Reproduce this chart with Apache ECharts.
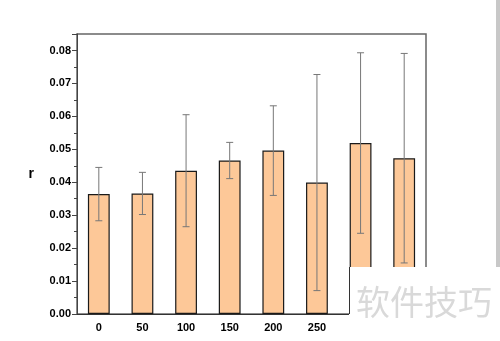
<!DOCTYPE html>
<html><head><meta charset="utf-8">
<script src="https://cdn.jsdelivr.net/npm/echarts@6/dist/echarts.min.js"></script>
<style>html,body{margin:0;padding:0;background:#fff}#c{width:500px;height:341px}</style>
</head><body><div id="c"></div>
<script>
const categories = ['0','50','100','150','200','250','300','350'];
const values = [0.0364, 0.0366, 0.0435, 0.0466, 0.0496, 0.0399, 0.0519, 0.0473];
const errors = [0.0081, 0.0064, 0.0170, 0.0055, 0.0136, 0.0328, 0.0274, 0.0318];
const yTicks = {min: 0, max: 0.085, interval: 0.01};

const chart = echarts.init(document.getElementById('c'));
const errData = categories.map((c, i) => [i, values[i] - errors[i], values[i] + errors[i]]);
chart.setOption({
  animation: false,
  grid: {left: 77, right: 74, top: 34, bottom: 27, show: true, borderColor: '#666', borderWidth: 1.5},
  xAxis: {
    type: 'category', data: categories,
    axisLine: {lineStyle: {color: '#333', width: 1}},
    axisTick: {alignWithLabel: true, inside: false, length: 4, lineStyle: {color: '#333'}},
    axisLabel: {color: '#000', fontWeight: 'bold', fontSize: 11, fontFamily: 'Liberation Sans', margin: 8}
  },
  yAxis: {
    type: 'value', min: yTicks.min, max: yTicks.max, interval: yTicks.interval,
    name: 'r', nameLocation: 'middle', nameGap: 43, nameRotate: 0,
    nameTextStyle: {color: '#000', fontWeight: 'bold', fontSize: 14, fontFamily: 'Liberation Sans'},
    axisLine: {show: true, lineStyle: {color: '#444', width: 1}},
    axisTick: {show: true, length: 5, lineStyle: {color: '#444'}},
    minorTick: {show: true, splitNumber: 2, length: 3, lineStyle: {color: '#444'}},
    splitLine: {show: false},
    axisLabel: {color: '#000', fontWeight: 'bold', fontSize: 11, fontFamily: 'Liberation Sans',
      margin: 6, showMaxLabel: false, formatter: v => v.toFixed(2)}
  },
  series: [
    {
      type: 'bar', data: values, barWidth: '50%',
      itemStyle: {color: '#FDC898', borderColor: '#1a1a1a', borderWidth: 1.2}
    },
    {
      type: 'custom', data: errData, z: 10,
      renderItem: function (params, api) {
        const x = api.coord([api.value(0), 0])[0];
        const lo = api.coord([api.value(0), api.value(1)])[1];
        const hi = api.coord([api.value(0), api.value(2)])[1];
        const hw = 3.5;
        const st = {stroke: '#777', lineWidth: 1};
        return {type: 'group', children: [
          {type: 'line', shape: {x1: x, y1: lo, x2: x, y2: hi}, style: st},
          {type: 'line', shape: {x1: x - hw, y1: lo, x2: x + hw, y2: lo}, style: st},
          {type: 'line', shape: {x1: x - hw, y1: hi, x2: x + hw, y2: hi}, style: st}
        ]};
      }
    }
  ],
  graphic: [
    {type: 'rect', left: 496, top: 0, shape: {width: 4, height: 267}, style: {fill: '#c8c8c8'}, z: 100},
    {type: 'rect', left: 349, top: 267, shape: {width: 151, height: 74}, style: {fill: '#fff'}, z: 100},
    {type: 'line', shape: {x1: 349.5, y1: 267, x2: 349.5, y2: 314}, style: {stroke: '#333', lineWidth: 1}, z: 101},
    {type: 'text', left: 356, top: 285, z: 101,
      style: {text: '软件技巧', fill: '#d9d9d9', font: '34px "Noto Sans CJK SC"'}}
  ]
});
</script></body></html>
